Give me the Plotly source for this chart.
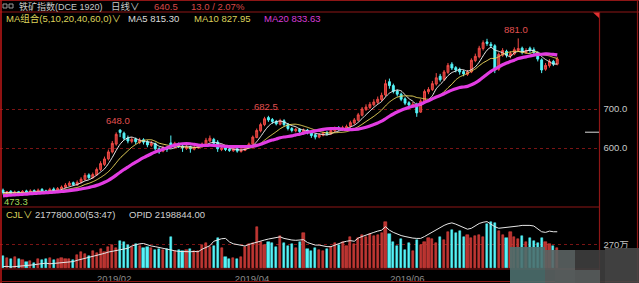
import plotly.graph_objects as go

W, H = 639, 283

# ---------------- data ----------------
closes = [486, 488, 484, 487, 483, 489, 486, 490, 487, 492,
          489, 486, 494, 491, 496, 500, 505, 510, 506, 512,
          520, 530, 524, 532, 545, 560, 572, 590, 612, 635,
          640, 625, 618, 622, 616, 620, 615, 608, 612, 598,
          590, 600, 596, 605, 612, 604, 600, 603, 598, 602,
          606, 610, 620, 625, 612, 598, 600, 596, 594, 598,
          592, 595, 603, 610, 628, 645, 660, 675, 672, 668,
          662, 670, 660, 650, 645, 648, 642, 646, 640, 632,
          628, 634, 638, 636, 645, 650, 648, 652, 655, 665,
          672, 685, 700, 705, 712, 718, 725, 735, 765, 760,
          745, 738, 725, 715, 710, 712, 690, 720, 745, 750,
          765, 780, 775, 795, 812, 805, 800, 795, 790, 795,
          825, 835, 856, 870, 868, 862, 800, 840, 850, 838,
          842, 852, 855, 846, 850, 850, 845, 828, 800, 812,
          822, 815, 828]
opens = [492, 482, 489, 483, 488, 482, 490, 485, 491, 486,
         494, 490, 486, 495, 490, 495, 499, 504, 511, 505,
         512, 519, 531, 524, 531, 545, 558, 572, 590, 610,
         646, 638, 626, 617, 623, 614, 621, 616, 607, 611,
         598, 592, 601, 613, 604, 611, 605, 599, 603, 597,
         601, 604, 609, 618, 622, 615, 596, 601, 597, 593,
         598, 591, 594, 602, 610, 627, 644, 660, 678, 673,
         668, 661, 670, 661, 650, 644, 648, 641, 646, 640,
         634, 628, 633, 640, 636, 644, 652, 647, 650, 656,
         664, 671, 684, 699, 704, 711, 717, 724, 736, 770,
         760, 746, 738, 726, 716, 708, 712, 692, 720, 744,
         750, 764, 784, 776, 794, 815, 806, 802, 796, 789,
         795, 824, 834, 855, 872, 866, 862, 802, 838, 848,
         836, 841, 850, 856, 845, 856, 852, 845, 826, 802,
         811, 822, 815]
highs = [496, 490, 492, 491, 490, 492, 493, 494, 494, 496,
         497, 493, 498, 499, 500, 504, 510, 515, 514, 517,
         525, 536, 535, 537, 550, 566, 578, 596, 618, 640,
         648, 642, 632, 628, 627, 626, 625, 620, 618, 614,
         602, 606, 604, 632, 616, 614, 608, 607, 606, 606,
         610, 614, 626, 632, 626, 620, 604, 604, 600, 602,
         600, 599, 607, 614, 632, 650, 665, 680, 682.5, 677,
         672, 675, 674, 664, 654, 652, 651, 650, 649, 643,
         637, 638, 642, 644, 650, 655, 656, 657, 660, 670,
         677, 690, 705, 712, 718, 725, 732, 742, 775, 778,
         765, 750, 742, 730, 720, 718, 716, 725, 750, 756,
         772, 792, 790, 800, 818, 820, 810, 806, 800, 800,
         830, 842, 862, 876, 880, 872, 866, 845, 856, 852,
         848, 858, 881, 860, 856, 860, 858, 848, 830, 818,
         828, 826, 834]
lows = [481, 473.3, 480, 479, 478, 480, 483, 483, 484, 484,
        486, 483, 484, 488, 488, 492, 497, 502, 503, 503,
        509, 516, 520, 521, 529, 541, 554, 568, 586, 606,
        628, 620, 612, 612, 610, 610, 609, 602, 603, 594,
        585, 589, 590, 600, 600, 600, 590, 595, 588, 594,
        598, 600, 606, 615, 608, 590, 592, 592, 590, 590,
        588, 588, 592, 600, 608, 625, 640, 656, 667, 662,
        658, 658, 655, 645, 640, 640, 637, 638, 635, 626,
        622, 625, 630, 632, 634, 641, 644, 644, 646, 652,
        660, 668, 681, 695, 700, 707, 713, 720, 732, 752,
        740, 732, 720, 710, 704, 704, 680, 690, 716, 738,
        746, 760, 770, 772, 790, 800, 794, 788, 784, 785,
        792, 820, 830, 850, 862, 856, 792, 798, 834, 832,
        830, 838, 846, 840, 841, 844, 840, 822, 792, 798,
        806, 810, 812]
# closes of the days before the visible window (used only for the moving averages)
prev_closes = [468, 470, 472, 469, 473, 475, 471, 474, 476, 478,
               475, 479, 481, 478, 482, 484, 486, 483, 487]
# volume, in 10k (万) lots
volume = [140, 120, 100, 130, 110, 95, 70, 85, 60, 110,
          95, 105, 120, 90, 100, 115, 105, 110, 95, 150,
          185, 165, 140, 200, 170, 215, 180, 240, 260, 230,
          310, 300, 260, 240, 270, 250, 230, 245, 230, 210,
          220, 205, 215, 350, 200, 210, 190, 205, 215, 195,
          200, 260, 280, 240, 250, 340, 230, 130, 110, 120,
          100, 125, 240, 270, 280, 469, 300, 260, 300, 280,
          240, 367, 280, 250, 270, 230, 300, 394, 220, 200,
          230, 210, 190, 220, 240, 280, 260, 300, 250, 356,
          270, 340, 370, 350, 390, 360, 380, 400, 525, 390,
          300, 250, 330, 210, 280, 200, 320, 260, 300, 340,
          330, 290, 350, 320, 410, 430, 400, 420, 350, 370,
          340, 360, 380, 350, 500, 520, 510, 420, 380, 340,
          410, 350, 330, 360, 300, 340, 310, 290, 337, 300,
          270, 250, 230]
# open interest, in 10k (万)
opid = [110, 111, 109, 110, 112, 111, 114, 115, 116, 118,
        120, 121, 119, 120, 122, 121, 123, 124, 126, 130,
        133, 136, 139, 142, 145, 147, 152, 156, 158, 161,
        164, 166, 168, 175, 179, 182, 183, 178, 175, 173,
        170, 167, 165, 163, 160, 158, 157, 156, 157, 158,
        157, 165, 170, 176, 190, 195, 198, 199, 188, 182,
        179, 177, 175, 180, 184, 187, 190, 194, 197, 200,
        203, 204, 199, 196, 194, 193, 194, 195, 186, 181,
        178, 178, 175, 173, 173, 178, 183, 187, 190, 192,
        190, 200, 205, 210, 214, 218, 222, 225, 236, 225,
        218, 212, 208, 205, 202, 200, 199, 199, 205, 212,
        220, 228, 234, 240, 245, 248, 244, 238, 232, 228,
        231, 238, 246, 250, 252, 244, 236, 231, 232, 234,
        236, 237, 238, 240, 241, 240, 238, 230, 220, 218,
        222, 220, 220]
month_labels = ["2019/02", "2019/04", "2019/06"]
month_start_idx = [28.5, 63.8, 103.6]
peak_idx = [30, 68, 132]
price_ticks = [600, 700]
vol_ticks = [270]
last_price, last_chg, last_pct = 640.5, 13.0, 2.07
ma_names = ["MA5", "MA10", "MA20"]
ma_periods = [5, 10, 20]
ma_shown = [815.30, 827.95, 833.63]
cjl_text, opid_text = "2177800.00(53:47)", "2198844.00"

# ---------------- helpers ----------------
N = len(closes)
idx = list(range(N))
allc = prev_closes + closes
P = len(prev_closes)


def ma(n):
    out = []
    for i in range(N):
        j = i + P
        win = allc[max(0, j - n + 1): j + 1]
        out.append(sum(win) / len(win))
    return out


def px(x):
    return x / W


def py(y):
    return 1 - y / H


UP_LINE, UP_FILL = "#f04a46", "#b8332f"
DN = "#55f4f8"
GRID = "#7a1414"
BORDER = "#8e1616"
FONT = "Liberation Sans, Arial, Noto Sans CJK SC"

# axis mapping (pixel geometry of the reference)
x_lo, x_hi = -3 / 3.9, 596 / 3.9
p_lo, p_hi = 600 - 59 / 0.39, 600 + 136 / 0.39
v_lo, v_hi = -0.7 * 11.25, (268.3 - 207) * 11.25
o_lo, o_hi = 110 + (185 - 192) * 1.05, 110 + (185 - 6) * 1.05

fig = go.Figure()

fig.add_trace(go.Candlestick(
    x=idx, open=opens, high=highs, low=lows, close=closes,
    increasing=dict(line=dict(color=UP_LINE, width=1), fillcolor=UP_FILL),
    decreasing=dict(line=dict(color=DN, width=1), fillcolor=DN),
    whiskerwidth=0, xaxis="x", yaxis="y", showlegend=False, hoverinfo="skip"))

ma_colors = ["#ececec", "#e6d25a", "#e23ce2"]
ma_widths = [1, 1, 3.2]
for n, c, w in zip(ma_periods, ma_colors, ma_widths):
    fig.add_trace(go.Scatter(x=idx, y=ma(n), mode="lines",
                             line=dict(color=c, width=w, shape="spline", smoothing=0.6),
                             xaxis="x", yaxis="y", showlegend=False, hoverinfo="skip"))

vcol = [UP_FILL if c >= o else DN for o, c in zip(opens, closes)]
vline = [UP_LINE if c >= o else DN for o, c in zip(opens, closes)]
fig.add_trace(go.Bar(x=idx, y=volume, width=0.55,
                     marker=dict(color=vcol, line=dict(color=vline, width=0.5)),
                     xaxis="x2", yaxis="y2", showlegend=False, hoverinfo="skip"))
fig.add_trace(go.Scatter(x=idx, y=opid, mode="lines",
                         line=dict(color="#e6e6e6", width=1),
                         xaxis="x2", yaxis="y3", showlegend=False, hoverinfo="skip"))

xdom = [0, 599.5 / W]
fig.update_layout(
    width=W, height=H, margin=dict(l=0, r=0, t=0, b=0),
    paper_bgcolor="#000000", plot_bgcolor="#000000",
    font=dict(family=FONT, size=10, color="#cfcfcf"),
    xaxis=dict(domain=xdom, range=[x_lo, x_hi], anchor="y", showgrid=False,
               zeroline=False, showticklabels=False, rangeslider=dict(visible=False),
               fixedrange=True),
    yaxis=dict(domain=[py(207), py(12)], range=[p_lo, p_hi], anchor="x", side="right",
               tickvals=price_ticks, ticktext=[f"{v:.1f}" for v in price_ticks],
               tickfont=dict(size=9.5, color="#c8c8c8"), ticks="", ticklabelstandoff=3,
               showgrid=True, gridcolor=GRID, griddash="dot", gridwidth=1,
               zeroline=False, showline=False),
    xaxis2=dict(domain=xdom, range=[x_lo, x_hi], anchor="y2", matches="x",
                showgrid=False, zeroline=False, tickvals=month_start_idx,
                ticktext=month_labels, tickfont=dict(size=9.5, color="#8a8a8a"),
                ticks="", ticklabelstandoff=2),
    yaxis2=dict(domain=[py(269), py(207)], range=[v_lo, v_hi], anchor="x2", side="right",
                tickvals=vol_ticks, ticktext=[f"{v}万" for v in vol_ticks],
                tickfont=dict(size=9.5, color="#c0c0c0"), ticks="", ticklabelstandoff=3,
                showgrid=True, gridcolor=GRID, griddash="dot", zeroline=False),
    yaxis3=dict(overlaying="y2", range=[o_lo, o_hi], visible=False),
    bargap=0,
)

shapes = []
def pline(x0, y0, x1, y1, color=BORDER, w=1.2):
    shapes.append(dict(type="line", xref="paper", yref="paper",
                       x0=px(x0), y0=py(y0), x1=px(x1), y1=py(y1),
                       line=dict(color=color, width=w)))

pline(0, 0.5, W, 0.5)
pline(0, 12, W, 12)
pline(1, 0, 1, 283, color="#c01818", w=1.5)
pline(637.5, 0, 637.5, 283)
pline(599.5, 12, 599.5, 283)
pline(0, 207, 599.5, 207)
pline(0, 269, 599.5, 269)
pline(0, 281.5, W, 281.5)
# current-price dash
shapes.append(dict(type="line", xref="paper", yref="y", x0=px(585), x1=px(599),
                   y0=last_price, y1=last_price, line=dict(color="#dcdcdc", width=1)))
# red corner triangle
shapes.append(dict(type="path", xref="paper", yref="paper",
                   path=f"M {px(593)} {py(12.5)} L {px(599)} {py(12.5)} L {px(599)} {py(18)} Z",
                   fillcolor="#e03030", line=dict(width=0)))
# title-bar icon
for x0 in (3, 9):
    shapes.append(dict(type="rect", xref="paper", yref="paper", x0=px(x0), x1=px(x0 + 4),
                       y0=py(8), y1=py(4), line=dict(color="#9a9a9a", width=1)))
# blurred watermark blocks (bottom right)
for x0, x1, y0, y1, c in [(510, 545, 247, 283, "#4c6f6e"), (545, 575, 250, 283, "#5b6363"),
                          (575, 605, 250, 283, "#3e3e3e"), (605, 639, 248, 283, "#474747"),
                          (555, 600, 270, 283, "#555a5a")]:
    shapes.append(dict(type="rect", xref="paper", yref="paper", x0=px(x0), x1=px(x1),
                       y0=py(y1), y1=py(y0), fillcolor=c, line=dict(width=0), layer="above",
                       opacity=0.9))
fig.update_layout(shapes=shapes)

ann = []
def ptext(x, y, text, color="#cfcfcf", size=9.5, xanchor="left"):
    ann.append(dict(xref="paper", yref="paper", x=px(x), y=py(y), text=text,
                    showarrow=False, xanchor=xanchor, yanchor="middle",
                    font=dict(size=size, color=color, family=FONT)))

ptext(17, 6, "铁矿指数(DCE 1920)", "#c8c8c8", 9)
ptext(109, 6, "日线∨", "#c8c8c8", 9.5)
ptext(152, 6, f"{last_price:.1f}", "#d84848", 9.5)
ptext(189, 6, f"{last_chg:.1f} / {last_pct:.2f}%", "#d84848", 9.5)
ptext(4, 18.5, "MA组合(5,10,20,40,60,0)∨", "#dcd25a", 9.5)
ma_pos = [126, 192, 262]
ma_txt_col = ["#dcdcdc", "#dcd25a", "#d83cd8"]
for name, val, x, c in zip(ma_names, ma_shown, ma_pos, ma_txt_col):
    ptext(x, 18.5, f"{name} {val:.2f}", c, 9.5)
ptext(4, 214.5, "CJL∨", "#dcd25a", 9.5)
ptext(33, 214.5, cjl_text, "#d0d0d0", 9.5)
ptext(127, 214.5, f"OPID {opid_text}", "#d0d0d0", 9.5)
ptext(2, 201, f"{min(lows):.1f}", "#a8dc5a", 9.5)

for k in peak_idx:
    ann.append(dict(xref="x", yref="y", x=k, y=highs[k], text=f"{highs[k]:.1f}",
                    showarrow=False, xanchor="center", yanchor="middle", yshift=9, xshift=-2,
                    font=dict(size=9.5, color="#e05050", family=FONT)))
fig.update_layout(annotations=ann)

fig.write_html("out.html")
